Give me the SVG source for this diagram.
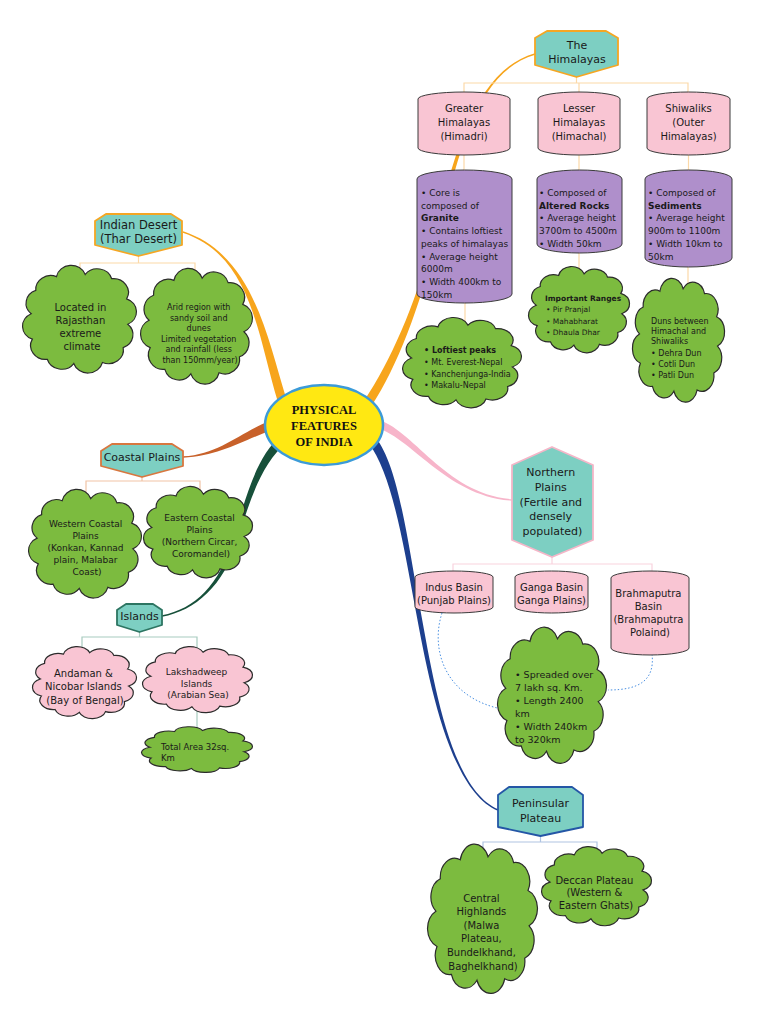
<svg xmlns="http://www.w3.org/2000/svg" width="768" height="1024" viewBox="0 0 768 1024">
<style>
text { font-family: "DejaVu Sans", Verdana, sans-serif; fill: #1a1a1a; }
.c { text-anchor: middle; }
.b { font-weight: bold; }
.hex { fill: #7DCFC2; stroke-width: 1.8; stroke-linejoin: round; }
.cylp { fill: #F9C5D3; stroke: #3a3a3a; stroke-width: 1; }
.cylv { fill: #AF8FCB; stroke: #3a3a3a; stroke-width: 1; }
.cg { fill: #7CBB3F; stroke: #2b2b2b; stroke-width: 1.2; }
.cp { fill: #F9C5D3; stroke: #2b2b2b; stroke-width: 1.2; }
.br { fill: none; stroke-width: 1.2; }
.dot { fill: none; stroke: #4A90E2; stroke-width: 1; stroke-dasharray: 1.5 2; }
.title { font-family: "Liberation Serif", "Times New Roman", serif; font-weight: bold; font-size: 12.5px; fill: #111; text-anchor: middle; }
</style>
<defs>
<symbol id="cloud" viewBox="0 0 100 100" preserveAspectRatio="none" style="overflow:visible">
<path vector-effect="non-scaling-stroke" d="M30,10 A13,13 0 0 1 55,8 A13,13 0 0 1 78,12 A13,13 0 0 1 91,31 A13,13 0 0 1 92,55 A13,13 0 0 1 88,77 A13,13 0 0 1 70,91 A13,13 0 0 1 45,92 A13,13 0 0 1 22,88 A13,13 0 0 1 9,69 A13,13 0 0 1 8,45 A13,13 0 0 1 12,23 A13,13 0 0 1 30,10 Z"/>
</symbol>
</defs>
<rect width="768" height="1024" fill="#ffffff"/>

<g id="connectors">
  <!-- main branches -->
  <path fill="#F7A51C" d="M365.7,414.6 C398.7,367.6 421.9,300.5 441.9,220.5 C461.9,140.5 480.2,70.7 535.2,54.7 L534.8,53.3 C479.8,69.3 458.1,139.5 438.1,219.5 C418.1,299.5 391.3,362.4 358.3,409.4 Z"/>
  <path fill="#F7A51C" d="M286.3,398.7 C266.3,333.7 252.2,254.3 183.2,231.3 L182.8,232.7 C251.8,255.7 257.7,336.3 277.7,401.3 Z"/>
  <path fill="#C8612A" d="M270.4,420.8 C238.4,432.8 220,454.3 183,456.3 L183,457.7 C220,455.7 241.6,441.2 273.6,429.2 Z"/>
  <path fill="#17503A" d="M282.2,434.5 C255.2,456.5 245.9,499.3 232.9,539.3 C219.9,584.4 194.9,609.3 161.9,615.3 L162.1,616.7 C195.1,610.7 224.1,585.6 237.1,540.7 C250.1,500.7 260.8,463.5 287.8,441.5 Z"/>
  <path fill="#F7B5CA" d="M374.1,426.9 C411.1,435.9 444.9,495.7 511.9,500.7 L512.1,499.3 C445.1,494.3 412.9,428.1 375.9,419.1 Z"/>
  <path fill="#1D3F8E" d="M368.4,442.7 C391.4,472.7 402.7,540.4 415.7,610.4 C428.7,680.4 449.7,790.7 497.7,810.7 L498.3,809.3 C450.3,789.3 433.3,679.6 420.3,609.6 C407.3,539.6 398.6,467.3 375.6,437.3 Z"/>
  <!-- sub-branch brackets -->
  <path class="br" stroke="#FCD9A8" d="M576.5,77 V83 M464,96 V83 H688 V96 M579,83 V96"/>
  <path class="br" stroke="#FCD9A8" d="M464,154 V172 M579,154 V172 M688.5,154 V172"/>
  <path class="br" stroke="#FCD9A8" d="M465,302 V322 M579,252 V272 M688,266 V286"/>
  <path class="br" stroke="#FCD9A8" d="M138.5,256 V263 M80,276 V263 H195 V276"/>
  <path class="br" stroke="#F1C3A5" d="M142,477 V481 M86,493 V481 H200 V493"/>
  <path class="br" stroke="#A7CBBF" d="M139.5,632 V637 M82,650 V637 H197 V650 M197,711 V731"/>
  <path class="br" stroke="#F9D3DE" d="M552,557 V564 M453,574 V564 H652 V574"/>
  <path class="br" stroke="#AFC4E2" d="M540.5,836 V842 M483,851 V842 H597 V851"/>
  <!-- dotted relations -->
  <path class="dot" d="M442,613 C430,650 445,700 507,710"/>
  <path class="dot" d="M652,654 C655,680 640,690 608,690"/>
</g>

<g id="n-center">
  <ellipse cx="324" cy="425" rx="59" ry="40" fill="#FFE812" stroke="#3C9BD8" stroke-width="2.5"/>
  <text class="title" x="324" y="414">PHYSICAL</text>
  <text class="title" x="324" y="430">FEATURES</text>
  <text class="title" x="324" y="446">OF INDIA</text>
</g>

<g id="n-himalayas">
  <polygon class="hex" stroke="#F5A623" points="535,38 547,31 606,31 618,38 618,65 576.5,77 535,65"/>
  <text class="c" x="577" y="49" font-size="11">The</text>
  <text class="c" x="577" y="63" font-size="11">Himalayas</text>
</g>
<g id="n-greater">
  <path class="cylp" d="M418,99 A46,7 0 0 1 510,99 L510,148 A46,7 0 0 1 418,148 Z"/>
  <text class="c" x="464" y="111.5" font-size="10">Greater</text>
  <text class="c" x="464" y="125.5" font-size="10">Himalayas</text>
  <text class="c" x="464" y="140" font-size="10">(Himadri)</text>
</g>
<g id="n-lesser">
  <path class="cylp" d="M538,99 A41,7 0 0 1 620,99 L620,148 A41,7 0 0 1 538,148 Z"/>
  <text class="c" x="579" y="111.5" font-size="10">Lesser</text>
  <text class="c" x="579" y="125.5" font-size="10">Himalayas</text>
  <text class="c" x="579" y="140" font-size="10">(Himachal)</text>
</g>
<g id="n-shiwaliks">
  <path class="cylp" d="M647,99 A41.5,7 0 0 1 730,99 L730,148 A41.5,7 0 0 1 647,148 Z"/>
  <text class="c" x="688.5" y="111.5" font-size="10">Shiwaliks</text>
  <text class="c" x="688.5" y="125.5" font-size="10">(Outer</text>
  <text class="c" x="688.5" y="140" font-size="10">Himalayas)</text>
</g>
<g id="n-greater-info">
  <path class="cylv" d="M417,179 A47.5,9 0 0 1 512,179 L512,294 A47.5,9 0 0 1 417,294 Z"/>
  <text font-size="9" x="421" y="196">
    <tspan x="421">• Core is</tspan>
    <tspan x="421" dy="12.7">composed of</tspan>
    <tspan x="421" dy="12.7" class="b">Granite</tspan>
    <tspan x="421" dy="12.7">• Contains loftiest</tspan>
    <tspan x="421" dy="12.7">peaks of himalayas</tspan>
    <tspan x="421" dy="12.7">• Average height</tspan>
    <tspan x="421" dy="12.7">6000m</tspan>
    <tspan x="421" dy="12.7">• Width 400km to</tspan>
    <tspan x="421" dy="12.7">150km</tspan>
  </text>
</g>
<g id="n-lesser-info">
  <path class="cylv" d="M537,179 A42.5,9 0 0 1 622,179 L622,244 A42.5,9 0 0 1 537,244 Z"/>
  <text font-size="9" x="539" y="196">
    <tspan x="539">• Composed of</tspan>
    <tspan x="539" dy="12.7" class="b">Altered Rocks</tspan>
    <tspan x="539" dy="12.7">• Average height</tspan>
    <tspan x="539" dy="12.7">3700m to 4500m</tspan>
    <tspan x="539" dy="12.7">• Width 50km</tspan>
  </text>
</g>
<g id="n-shiwaliks-info">
  <path class="cylv" d="M645,179 A43.5,9 0 0 1 732,179 L732,258 A43.5,9 0 0 1 645,258 Z"/>
  <text font-size="9" x="648" y="196">
    <tspan x="648">• Composed of</tspan>
    <tspan x="648" dy="12.7" class="b">Sediments</tspan>
    <tspan x="648" dy="12.7">• Average height</tspan>
    <tspan x="648" dy="12.7">900m to 1100m</tspan>
    <tspan x="648" dy="12.7">• Width 10km to</tspan>
    <tspan x="648" dy="12.7">50km</tspan>
  </text>
</g>
<g id="n-loftiest">
  <use href="#cloud" class="cg" x="402" y="318" width="120" height="89"/>
  <text font-size="8" x="424" y="353">
    <tspan x="424" class="b">• Loftiest peaks</tspan>
    <tspan x="424" dy="11.8">• Mt. Everest-Nepal</tspan>
    <tspan x="424" dy="11.8">• Kanchenjunga-India</tspan>
    <tspan x="424" dy="11.8">• Makalu-Nepal</tspan>
  </text>
</g>
<g id="n-ranges">
  <use href="#cloud" class="cg" x="528" y="267" width="102" height="85"/>
  <text font-size="7.5" x="545" y="301">
    <tspan x="545" class="b">Important Ranges</tspan>
    <tspan x="546" dy="11.3">• Pir Pranjal</tspan>
    <tspan x="546" dy="11.3">• Mahabharat</tspan>
    <tspan x="546" dy="11.3">• Dhaula Dhar</tspan>
  </text>
</g>
<g id="n-duns">
  <use href="#cloud" class="cg" x="632" y="279" width="93" height="122"/>
  <text font-size="8" x="651" y="324">
    <tspan x="651">Duns between</tspan>
    <tspan x="651" dy="10.2">Himachal and</tspan>
    <tspan x="651" dy="10.2">Shiwaliks</tspan>
    <tspan x="651" dy="11.2">• Dehra Dun</tspan>
    <tspan x="651" dy="11.2">• Cotli Dun</tspan>
    <tspan x="651" dy="11.2">• Patli Dun</tspan>
  </text>
</g>

<g id="n-desert">
  <polygon class="hex" stroke="#F5A623" points="95,221 106,214 171,214 182,221 182,245 138.5,256 95,245"/>
  <text class="c" x="138.5" y="229" font-size="11.5">Indian Desert</text>
  <text class="c" x="138.5" y="243" font-size="11.5">(Thar Desert)</text>
</g>
<g id="n-desert-location">
  <use href="#cloud" class="cg" x="22" y="266" width="115" height="106"/>
  <text class="c" font-size="10" x="82" y="310.5">
    <tspan x="82">Located in</tspan>
    <tspan x="82" dy="13">Rajasthan</tspan>
    <tspan x="82" dy="13">extreme</tspan>
    <tspan x="82" dy="13">climate</tspan>
  </text>
</g>
<g id="n-desert-climate">
  <use href="#cloud" class="cg" x="140" y="269" width="113" height="114"/>
  <text class="c" font-size="8" x="200" y="310">
    <tspan x="200">Arid region with</tspan>
    <tspan x="200" dy="10.5">sandy soil and</tspan>
    <tspan x="200" dy="10.5">dunes</tspan>
    <tspan x="200" dy="10.5">Limited vegetation</tspan>
    <tspan x="200" dy="10.5">and rainfall (less</tspan>
    <tspan x="200" dy="10.5">than 150mm/year)</tspan>
  </text>
</g>

<g id="n-coastal">
  <polygon class="hex" stroke="#D8773F" points="101,451 112,444 172,444 183,451 183,466 142,477 101,466"/>
  <text class="c" x="142" y="461" font-size="11">Coastal Plains</text>
</g>
<g id="n-western">
  <use href="#cloud" class="cg" x="28" y="490" width="114" height="107"/>
  <text class="c" font-size="9" x="87" y="527">
    <tspan x="87">Western Coastal</tspan>
    <tspan x="87" dy="12">Plains</tspan>
    <tspan x="87" dy="12">(Konkan, Kannad</tspan>
    <tspan x="87" dy="12">plain, Malabar</tspan>
    <tspan x="87" dy="12">Coast)</tspan>
  </text>
</g>
<g id="n-eastern">
  <use href="#cloud" class="cg" x="143" y="487" width="110" height="90"/>
  <text class="c" font-size="9" x="201" y="521">
    <tspan x="201">Eastern Coastal</tspan>
    <tspan x="201" dy="12">Plains</tspan>
    <tspan x="201" dy="12">(Northern Circar,</tspan>
    <tspan x="201" dy="12">Coromandel)</tspan>
  </text>
</g>

<g id="n-islands">
  <polygon class="hex" stroke="#2D7562" points="117,610 126,604 153,604 162,610 162,625 139.5,632 117,625"/>
  <text class="c" x="139.5" y="620" font-size="11">Islands</text>
</g>
<g id="n-andaman">
  <use href="#cloud" class="cp" x="32" y="647" width="105" height="71"/>
  <text class="c" font-size="10" x="85" y="676.5">
    <tspan x="85">Andaman &amp;</tspan>
    <tspan x="85" dy="13.5">Nicobar Islands</tspan>
    <tspan x="85" dy="13.5">(Bay of Bengal)</tspan>
  </text>
</g>
<g id="n-lakshadweep">
  <use href="#cloud" class="cp" x="142" y="647" width="111" height="65"/>
  <text class="c" font-size="9" x="198" y="675">
    <tspan x="198">Lakshadweep</tspan>
    <tspan x="198" dy="11.7">Islands</tspan>
    <tspan x="198" dy="11.7">(Arabian Sea)</tspan>
  </text>
</g>
<g id="n-lakshadweep-area">
  <use href="#cloud" class="cg" x="141" y="727" width="112" height="45"/>
  <text font-size="8.5" x="161" y="750">
    <tspan x="161">Total Area 32sq.</tspan>
    <tspan x="161" dy="11">Km</tspan>
  </text>
</g>

<g id="n-northern">
  <polygon class="hex" stroke="#F4B6C8" points="552,447 593,465 593,540 552,557 512,540 512,465"/>
  <text class="c" font-size="11" x="552.5" y="476">
    <tspan x="552.5">Northern</tspan>
    <tspan x="552.5" dy="14.8">Plains</tspan>
    <tspan x="552.5" dy="14.8">(Fertile and</tspan>
    <tspan x="552.5" dy="14.8">densely</tspan>
    <tspan x="552.5" dy="14.8">populated)</tspan>
  </text>
</g>
<g id="n-indus">
  <path class="cylp" d="M415,577 A39,6 0 0 1 493,577 L493,607 A39,6 0 0 1 415,607 Z"/>
  <text class="c" x="454" y="590.5" font-size="10">Indus Basin</text>
  <text class="c" x="454" y="603.5" font-size="10">(Punjab Plains)</text>
</g>
<g id="n-ganga">
  <path class="cylp" d="M515,577 A36.5,6 0 0 1 588,577 L588,607 A36.5,6 0 0 1 515,607 Z"/>
  <text class="c" x="551.5" y="590.5" font-size="10">Ganga Basin</text>
  <text class="c" x="551.5" y="603.5" font-size="10">Ganga Plains)</text>
</g>
<g id="n-brahmaputra">
  <path class="cylp" d="M611,578 A39,7 0 0 1 689,578 L689,648 A39,7 0 0 1 611,648 Z"/>
  <text class="c" font-size="10" x="650" y="596.5">
    <tspan x="650">Brahmaputra</tspan>
    <tspan x="650" dy="13">Basin</tspan>
    <tspan x="650" dy="13">(Brahmaputra</tspan>
    <tspan x="650" dy="13">Polaind)</tspan>
  </text>
</g>
<g id="n-plains-info">
  <use href="#cloud" class="cg" x="497" y="628" width="110" height="134"/>
  <text font-size="9.5" x="515" y="678">
    <tspan x="515">• Spreaded over</tspan>
    <tspan x="515" dy="12.9">7 lakh sq. Km.</tspan>
    <tspan x="515" dy="12.9">• Length 2400</tspan>
    <tspan x="515" dy="12.9">km</tspan>
    <tspan x="515" dy="12.9">• Width 240km</tspan>
    <tspan x="515" dy="12.9">to 320km</tspan>
  </text>
</g>

<g id="n-peninsular">
  <polygon class="hex" stroke="#2456A6" points="498,795 509,787 572,787 583,795 583,827 540.5,836 498,827"/>
  <text class="c" x="540.5" y="807" font-size="11">Peninsular</text>
  <text class="c" x="540.5" y="822" font-size="11">Plateau</text>
</g>
<g id="n-central">
  <use href="#cloud" class="cg" x="427" y="845" width="111" height="147"/>
  <text class="c" font-size="10" x="483" y="901.5">
    <tspan x="483">Central</tspan>
    <tspan x="483" dy="13.6">Highlands</tspan>
    <tspan x="483" dy="13.6">(Malwa</tspan>
    <tspan x="483" dy="13.6">Plateau,</tspan>
    <tspan x="483" dy="13.6">Bundelkhand,</tspan>
    <tspan x="483" dy="13.6">Baghelkhand)</tspan>
  </text>
</g>
<g id="n-deccan">
  <use href="#cloud" class="cg" x="541" y="847" width="111" height="78"/>
  <text class="c" font-size="10" x="596" y="883.5">
    <tspan x="596">Deccan Plateau</tspan>
    <tspan x="596" dy="12.5">(Western &amp;</tspan>
    <tspan x="596" dy="12.5">Eastern Ghats)</tspan>
  </text>
</g>
</svg>
